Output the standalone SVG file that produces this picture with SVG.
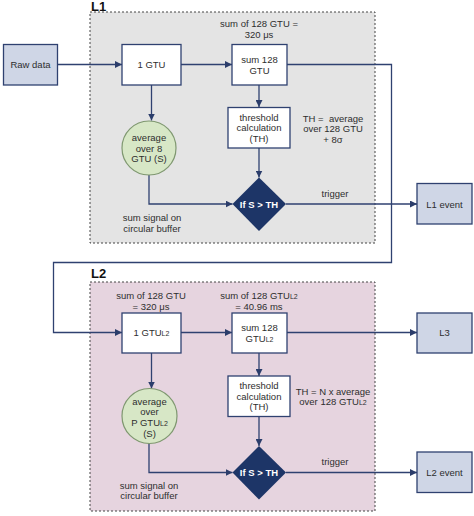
<svg xmlns="http://www.w3.org/2000/svg" width="474" height="516" viewBox="0 0 474 516">
<defs>
<marker id="ah" viewBox="0 0 10 10" refX="10" refY="5" markerWidth="7" markerHeight="7" markerUnits="userSpaceOnUse" orient="auto">
<path d="M0,0 L10,5 L0,10 z" fill="#2b3d6b"/>
</marker>
</defs>
<style>
text{font-family:"Liberation Sans",Arial,sans-serif;font-size:9.5px;fill:#2e2e2e;text-anchor:middle}
.box{fill:#fff;stroke:#2f4170;stroke-width:1.3}
.ext{fill:#cfd6e6;stroke:#2f4170;stroke-width:1.3}
.circ{fill:#d7e7c6;stroke:#7f9870;stroke-width:1.2}
.dia{fill:#1d3567}
.panel{stroke:#444;stroke-width:1;stroke-dasharray:2,2}
.lbl{font-size:13px;font-weight:bold;fill:#111;text-anchor:start}
.con{fill:none;stroke:#2f4170;stroke-width:1.3}
.sub{font-size:7px}
.dt{fill:#fff;font-weight:bold}
.pre{white-space:pre}
</style>
<g id="panel-L1">
<rect class="panel" x="90" y="12" width="285" height="231" fill="#e4e4e4"/>
<text class="lbl" x="91" y="10.5">L1</text>
</g>
<g id="panel-L2">
<rect class="panel" x="90" y="282" width="285" height="229" fill="#e6d4df"/>
<text class="lbl" x="91" y="277.5">L2</text>
</g>
<g id="connectors">
<path class="con" d="M58,64.5 H122" marker-end="url(#ah)"/>
<path class="con" d="M181,64.5 H232" marker-end="url(#ah)"/>
<path class="con" d="M151.5,85 V120.5" marker-end="url(#ah)"/>
<path class="con" d="M259,85 V107" marker-end="url(#ah)"/>
<path class="con" d="M259,148 V177.5" marker-end="url(#ah)"/>
<path class="con" d="M149,175 V204 H232.5" marker-end="url(#ah)"/>
<path class="con" d="M286,204 H417" marker-end="url(#ah)"/>
<path class="con" d="M287,64.5 H391.5 V262.5 H53.5 V332.5 H122" marker-end="url(#ah)"/>
<path class="con" d="M181,332.5 H232" marker-end="url(#ah)"/>
<path class="con" d="M287,332.5 H417" marker-end="url(#ah)"/>
<path class="con" d="M151.5,353 V388.5" marker-end="url(#ah)"/>
<path class="con" d="M259,353 V376" marker-end="url(#ah)"/>
<path class="con" d="M259,417 V446" marker-end="url(#ah)"/>
<path class="con" d="M149,443 V472.5 H232.5" marker-end="url(#ah)"/>
<path class="con" d="M286,472.5 H417" marker-end="url(#ah)"/>
</g>
<g id="raw-data">
<rect class="ext" x="3.5" y="44.5" width="54" height="40.5"/>
<text x="30.5" y="68">Raw data</text>
</g>
<g id="gtu1">
<rect class="box" x="122" y="44.5" width="59" height="40.5"/>
<text x="151.5" y="68">1 GTU</text>
</g>
<g id="sum128-note">
<text x="259" y="27">sum of 128 GTU =</text>
<text x="259" y="38">320 μs</text>
</g>
<g id="sum128">
<rect class="box" x="232" y="44.5" width="55" height="40.5"/>
<text x="259.5" y="63">sum 128</text>
<text x="259.5" y="74">GTU</text>
</g>
<g id="avg8">
<circle class="circ" cx="149" cy="148" r="27"/>
<text x="149" y="141">average</text>
<text x="149" y="151.5">over 8</text>
<text x="149" y="162">GTU (S)</text>
</g>
<g id="th1">
<rect class="box" x="228" y="107.5" width="62" height="40.5"/>
<text x="259" y="120.5">threshold</text>
<text x="259" y="131">calculation</text>
<text x="259" y="141.5">(TH)</text>
</g>
<g id="th1-note">
<text class="pre" x="333" y="121.5">TH =  average</text>
<text x="333" y="132">over 128 GTU</text>
<text x="333" y="142.5">+ 8σ</text>
</g>
<g id="cmp1">
<polygon class="dia" points="259,177.5 286,204 259,231 232.5,204"/>
<text class="dt" x="259" y="207.5">If S &gt; TH</text>
</g>
<g id="buf1">
<text x="152" y="220.5">sum signal on</text>
<text x="152" y="231.5">circular buffer</text>
</g>
<g id="trig1"><text x="335" y="196.5">trigger</text></g>
<g id="l1event">
<rect class="ext" x="417" y="183.5" width="55" height="40.5"/>
<text x="444.5" y="207.5">L1 event</text>
</g>
<g id="gtu1-l2-note">
<text x="151" y="298.5">sum of 128 GTU</text>
<text x="151" y="309.5">= 320 μs</text>
</g>
<g id="gtu1-l2">
<rect class="box" x="122" y="313" width="59" height="40"/>
<text x="151.5" y="336">1 GTU<tspan class="sub">L2</tspan></text>
</g>
<g id="sum128-l2-note">
<text x="259" y="298.5">sum of 128 GTU<tspan class="sub">L2</tspan></text>
<text x="259" y="309.5">= 40.96 ms</text>
</g>
<g id="sum128-l2">
<rect class="box" x="232" y="313" width="55" height="40"/>
<text x="259.5" y="331">sum 128</text>
<text x="259.5" y="342">GTU<tspan class="sub">L2</tspan></text>
</g>
<g id="l3">
<rect class="ext" x="417" y="313" width="55" height="40"/>
<text x="444.5" y="336">L3</text>
</g>
<g id="avgP">
<circle class="circ" cx="149.5" cy="416" r="27.5"/>
<text x="149.5" y="404.5">average</text>
<text x="149.5" y="415">over</text>
<text x="149.5" y="426">P GTU<tspan class="sub">L2</tspan></text>
<text x="149.5" y="436.5">(S)</text>
</g>
<g id="th2">
<rect class="box" x="228" y="376" width="62" height="40.5"/>
<text x="259" y="389">threshold</text>
<text x="259" y="399.5">calculation</text>
<text x="259" y="410">(TH)</text>
</g>
<g id="th2-note">
<text x="333" y="394.5">TH = N x average</text>
<text x="333" y="405">over 128 GTU<tspan class="sub">L2</tspan></text>
</g>
<g id="cmp2">
<polygon class="dia" points="259,446 286,472.5 259,499.5 232.5,472.5"/>
<text class="dt" x="259" y="476">If S &gt; TH</text>
</g>
<g id="buf2">
<text x="149" y="488.5">sum signal on</text>
<text x="149" y="499">circular buffer</text>
</g>
<g id="trig2"><text x="335" y="465">trigger</text></g>
<g id="l2event">
<rect class="ext" x="417" y="452" width="55" height="40.5"/>
<text x="444.5" y="476">L2 event</text>
</g>
</svg>
